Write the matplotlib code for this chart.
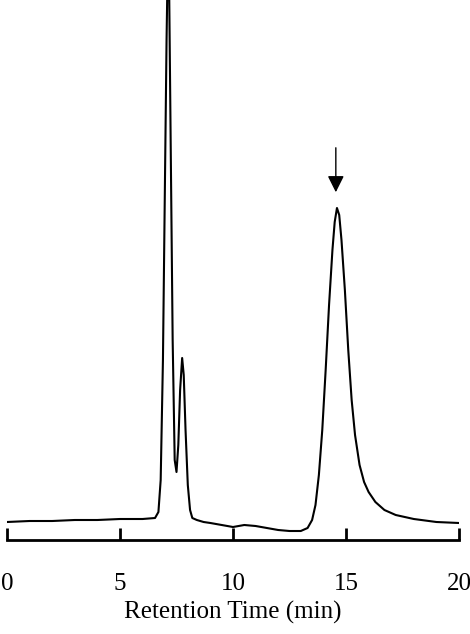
import matplotlib.pyplot as plt

# retention time (min) and detector signal (arbitrary units)
times = [0, 1, 2, 3, 4, 5, 6, 6.55, 6.7, 6.8, 6.9, 7.0, 7.06, 7.12, 7.18, 7.25, 7.33,
         7.42, 7.5, 7.58, 7.66, 7.75, 7.82, 7.9, 8.0, 8.1, 8.2, 8.4, 8.7, 9, 9.5, 10,
         10.5, 11, 11.5, 12, 12.5, 13, 13.3, 13.5, 13.65, 13.8, 13.95, 14.1, 14.25,
         14.4, 14.5, 14.6, 14.7, 14.8, 14.95, 15.1, 15.25, 15.4, 15.6, 15.8, 16.0,
         16.3, 16.7, 17.2, 18, 19, 20]
signal = [18, 19, 19, 20, 20, 21, 21, 22, 28, 60, 180, 380, 500, 590, 540, 380, 200,
          80, 68, 95, 150, 182, 165, 110, 55, 30, 22, 20, 18, 17, 15, 13,
          15, 14, 12, 10, 9, 9, 12, 20, 35, 65, 110, 170, 235,
          290, 318, 332, 325, 300, 250, 190, 140, 105, 75, 58, 48,
          38, 30, 25, 21, 18, 17]
arrow_time = 14.55

plt.rcParams['font.family'] = ['Liberation Serif', 'DejaVu Serif']
fig = plt.figure(figsize=(4.7, 6.34), dpi=100)
ax = fig.add_axes([7 / 470, 94 / 634, 452 / 470, 540 / 634])
ax.plot(times, signal, color='black', linewidth=1.5)
ax.set_xlim(0, 20)
ax.set_ylim(0, 540)

ax.annotate('', xy=(arrow_time, 345), xytext=(arrow_time, 395),
            arrowprops=dict(arrowstyle='-|>', color='black', lw=1,
                            mutation_scale=25))

for s in ['top', 'left', 'right']:
    ax.spines[s].set_visible(False)
ax.spines['bottom'].set_linewidth(2)
ax.set_yticks([])
ax.set_xticks([0, 5, 10, 15, 20])
ax.tick_params(axis='x', direction='in', length=9, width=2, pad=24, labelsize=18)
ax.set_xlabel('Retention Time (min)', fontsize=18, labelpad=4)

fig.savefig('out.png', dpi=100)
